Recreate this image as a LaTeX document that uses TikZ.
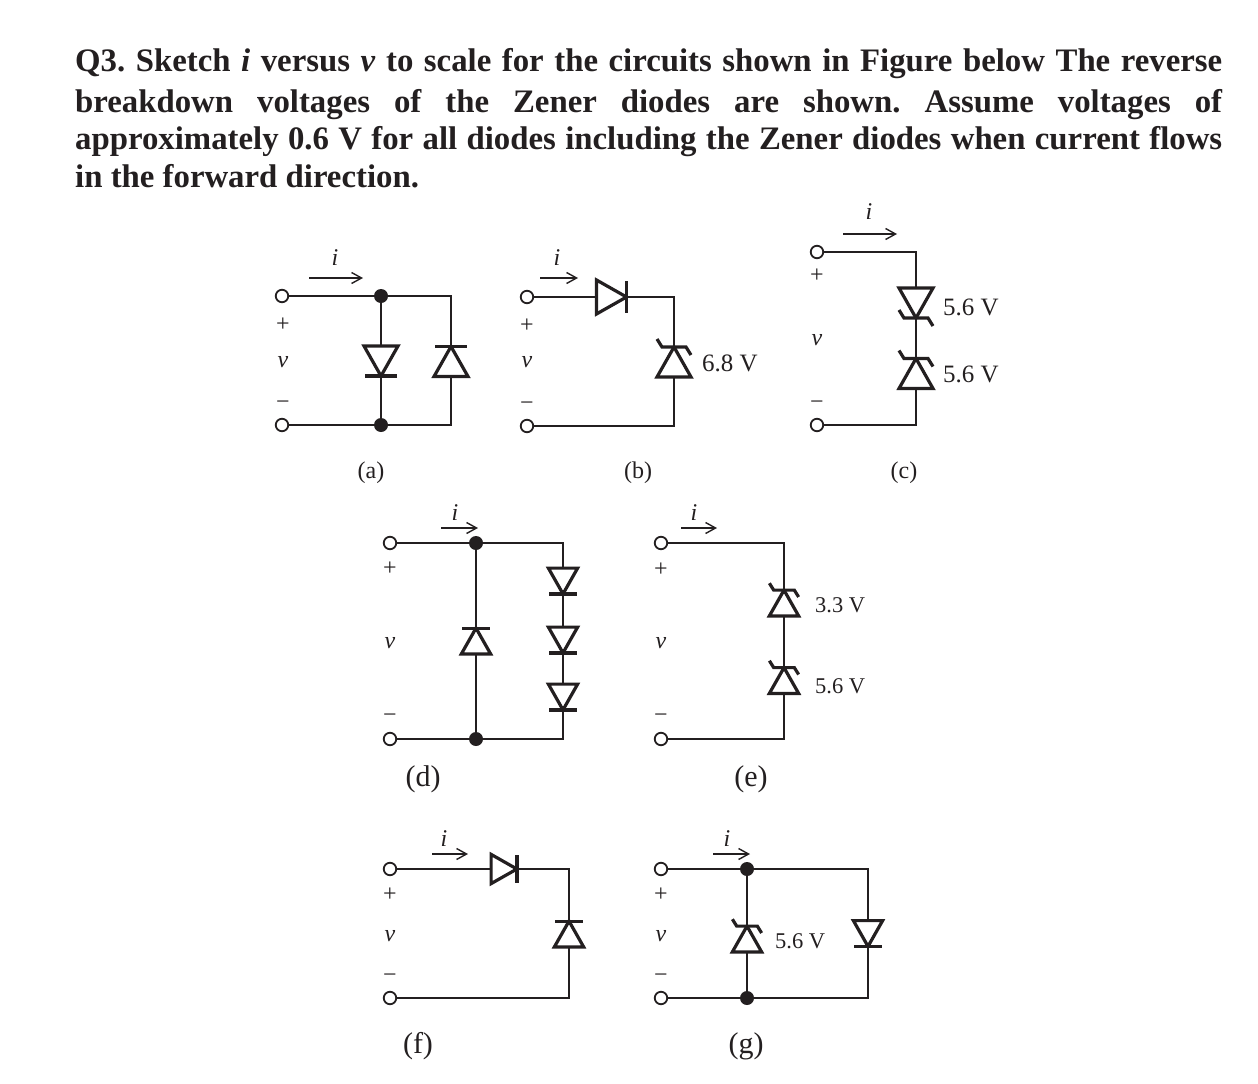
\documentclass[tikz,border=0pt]{standalone}
\usepackage{fontspec}
\setmainfont{Liberation Serif}
\usetikzlibrary{arrows.meta}
\definecolor{ink}{HTML}{231F20}
\tikzset{
  x=1pt,y=-1pt,
  wire/.style={draw=ink,line width=2pt,line join=miter},
  sym/.style={draw=ink,line width=3.2pt,line join=miter},
  term/.style={circle,draw=ink,fill=white,line width=1.8pt,inner sep=0pt,minimum size=12.5pt},
  junc/.style={circle,fill=ink,inner sep=0pt,minimum size=14pt},
  curarrow/.style={draw=ink,line width=1.4pt,-{Straight Barb[length=10pt,width=11pt,line width=1.4pt]}},
  smalld/.style={scale=.86},
  lab/.style={text=ink,font=\fontsize{25}{25}\selectfont,inner sep=0pt,anchor=west},
  labs/.style={lab,font=\fontsize{22.5}{22.5}\selectfont},
  signmark/.style={text=ink,font=\fontsize{24}{24}\selectfont,inner sep=0pt,anchor=base,yshift=-7pt},
  varv/.style={text=ink,font=\fontsize{24}{24}\selectfont\itshape,inner sep=0pt,anchor=base,yshift=-5.5pt},
  vari/.style={text=ink,font=\fontsize{24}{24}\selectfont\itshape,inner sep=0pt,anchor=base,yshift=-8pt},
  caplo/.style={text=ink,font=\fontsize{24}{24}\selectfont,inner sep=0pt,yshift=-1pt},
  caphi/.style={text=ink,font=\fontsize{30}{30}\selectfont,inner sep=0pt,yshift=-1.5pt},
  headline/.style={text=ink,inner sep=0pt,anchor=base west,font=\fontsize{32.8}{32.8}\selectfont\bfseries\frenchspacing},
  diode/.pic={
    \draw[sym] (-15,17)--(-15,-17)--(15,0)--cycle;
    \draw[sym] (15,-16)--(15,16);
    \coordinate (-a) at (-15,0);
    \coordinate (-k) at (15,0);
  },
  zener/.pic={
    \draw[sym] (-15,17)--(-15,-17)--(15,0)--cycle;
    \draw[sym] (23,-17)--(15,-12)--(15,12)--(7,17);
    \coordinate (-a) at (-15,0);
    \coordinate (-k) at (15,0);
  }
}
\begin{document}
\begin{tikzpicture}
\useasboundingbox (0,0) rectangle (1258,1084);
% heading
\node[headline] (h1) at (75,71) {\hbox to 1147pt{Q3. Sketch \textit{i} versus \textit{v} to scale for the circuits shown in Figure below The reverse}};
\node[headline] (h2) at (75,112) {\hbox to 1147pt{breakdown voltages of the Zener diodes are shown. Assume voltages of}};
\node[headline] (h3) at (75,149) {\hbox to 1147pt{approximately 0.6 V for all diodes including the Zener diodes when current flows}};
\node[headline] (h4) at (75,187) {in the forward direction.};

% (a)
\node[term] (at) at (282,296) {};
\node[term] (ab) at (282,425) {};
\node[junc] (aj) at (381,296) {};
\node[junc] (ak) at (381,425) {};
\pic[rotate=-90] (ad) at (381,361) {diode};
\pic[rotate=90] (ae) at (451,361.5) {diode};
\draw[wire] (at)--(aj) (aj)--(ad-a) (ad-k)--(ak) (ab)--(ak);
\draw[wire] (aj)-|(ae-k) (ak)-|(ae-a);
\coordinate (aa1) at (309,278); \coordinate (aa2) at (363,278);
\draw[curarrow] (aa1)--(aa2);
\node[vari] (ai) at (335,257) {i};
\node[signmark] (ap) at (283,324) {+};
\node[varv] (av) at (283,362) {v};
\node[signmark] (am) at (283,402) {\textminus};
\node[caplo] (acap) at (371,472) {(a)};

% (b)
\node[term] (bt) at (527,297) {};
\node[term] (bb) at (527,426) {};
\pic (bd) at (611.5,297) {diode};
\pic[rotate=90] (bz) at (674,362) {zener};
\draw[wire] (bt)--(bd-a);
\draw[wire] (bd-k)-|(bz-k);
\draw[wire] (bb)-|(bz-a);
\coordinate (ba1) at (540,278); \coordinate (ba2) at (578,278);
\draw[curarrow] (ba1)--(ba2);
\node[vari] (bi) at (557,257) {i};
\node[signmark] (bp) at (527,325) {+};
\node[varv] (bv) at (527,362) {v};
\node[signmark] (bm) at (527,403) {\textminus};
\node[lab] (bl) at (702,363) {6.8 V};
\node[caplo] (bcap) at (638,472) {(b)};

% (c)
\node[term] (ct) at (817,252) {};
\node[term] (cb) at (817,425) {};
\pic[rotate=-90] (cz) at (916,303) {zener};
\pic[rotate=90] (cy) at (916,373.5) {zener};
\draw[wire] (ct)-|(cz-a);
\draw[wire] (cz-k)--(cy-k);
\draw[wire] (cb)-|(cy-a);
\coordinate (ca1) at (843,234); \coordinate (ca2) at (897,234);
\draw[curarrow] (ca1)--(ca2);
\node[vari] (ci) at (869,211) {i};
\node[signmark] (cp) at (817,275) {+};
\node[varv] (cv) at (817,340) {v};
\node[signmark] (cm) at (817,402) {\textminus};
\node[lab] (cl1) at (943,307) {5.6 V};
\node[lab] (cl2) at (943,374) {5.6 V};
\node[caplo] (ccap) at (904,472) {(c)};

% (d)
\node[term] (dt) at (390,543) {};
\node[term] (db) at (390,739) {};
\node[junc] (dj) at (476,543) {};
\node[junc] (dk) at (476,739) {};
\pic[rotate=90,smalld] (dd) at (476,641) {diode};
\pic[rotate=-90,smalld] (d1) at (563,581) {diode};
\pic[rotate=-90,smalld] (d2) at (563,640) {diode};
\pic[rotate=-90,smalld] (d3) at (563,697) {diode};
\draw[wire] (dt)--(dj) (db)--(dk) (dj)--(dd-k) (dd-a)--(dk);
\draw[wire] (dj)-|(d1-a);
\draw[wire] (d1-k)--(d2-a) (d2-k)--(d3-a);
\draw[wire] (dk)-|(d3-k);
\coordinate (da1) at (441,528); \coordinate (da2) at (478,528);
\draw[curarrow] (da1)--(da2);
\node[vari] (di) at (455,512) {i};
\node[signmark] (dp) at (390,568) {+};
\node[varv] (dv) at (390,643) {v};
\node[signmark] (dm) at (390,715) {\textminus};
\node[caphi] (dcap) at (423,778) {(d)};

% (e)
\node[term] (et) at (661,543) {};
\node[term] (eb) at (661,739) {};
\pic[rotate=90,smalld] (ez) at (784,603) {zener};
\pic[rotate=90,smalld] (ey) at (784,680.5) {zener};
\draw[wire] (et)-|(ez-k);
\draw[wire] (ez-a)--(ey-k);
\draw[wire] (eb)-|(ey-a);
\coordinate (ea1) at (681,528); \coordinate (ea2) at (717,528);
\draw[curarrow] (ea1)--(ea2);
\node[vari] (ei) at (694,512) {i};
\node[signmark] (ep) at (661,569) {+};
\node[varv] (ev) at (661,643) {v};
\node[signmark] (em) at (661,715) {\textminus};
\node[labs] (el1) at (815,605) {3.3 V};
\node[labs] (el2) at (815,686) {5.6 V};
\node[caphi] (ecap) at (751,778) {(e)};

% (f)
\node[term] (ft) at (390,869) {};
\node[term] (fb) at (390,998) {};
\pic[smalld] (fd) at (504,869) {diode};
\pic[rotate=90,smalld] (fe) at (569,934) {diode};
\draw[wire] (ft)--(fd-a);
\draw[wire] (fd-k)-|(fe-k);
\draw[wire] (fb)-|(fe-a);
\coordinate (fa1) at (432,854); \coordinate (fa2) at (468,854);
\draw[curarrow] (fa1)--(fa2);
\node[vari] (fi) at (444,838) {i};
\node[signmark] (fp) at (390,894) {+};
\node[varv] (fv) at (390,936) {v};
\node[signmark] (fm) at (390,975) {\textminus};
\node[caphi] (fcap) at (418,1045) {(f)};

% (g)
\node[term] (gt) at (661,869) {};
\node[term] (gb) at (661,998) {};
\node[junc] (gj) at (747,869) {};
\node[junc] (gk) at (747,998) {};
\pic[rotate=90,smalld] (gz) at (747,939) {zener};
\pic[rotate=-90,smalld] (gd) at (868,933.5) {diode};
\draw[wire] (gt)--(gj) (gb)--(gk) (gj)--(gz-k) (gz-a)--(gk);
\draw[wire] (gj)-|(gd-a);
\draw[wire] (gk)-|(gd-k);
\coordinate (ga1) at (713,854); \coordinate (ga2) at (750,854);
\draw[curarrow] (ga1)--(ga2);
\node[vari] (gi) at (727,838) {i};
\node[signmark] (gp) at (661,894) {+};
\node[varv] (gv) at (661,936) {v};
\node[signmark] (gm) at (661,975) {\textminus};
\node[labs] (gl) at (775,941) {5.6 V};
\node[caphi] (gcap) at (746,1045) {(g)};
\end{tikzpicture}
\end{document}
